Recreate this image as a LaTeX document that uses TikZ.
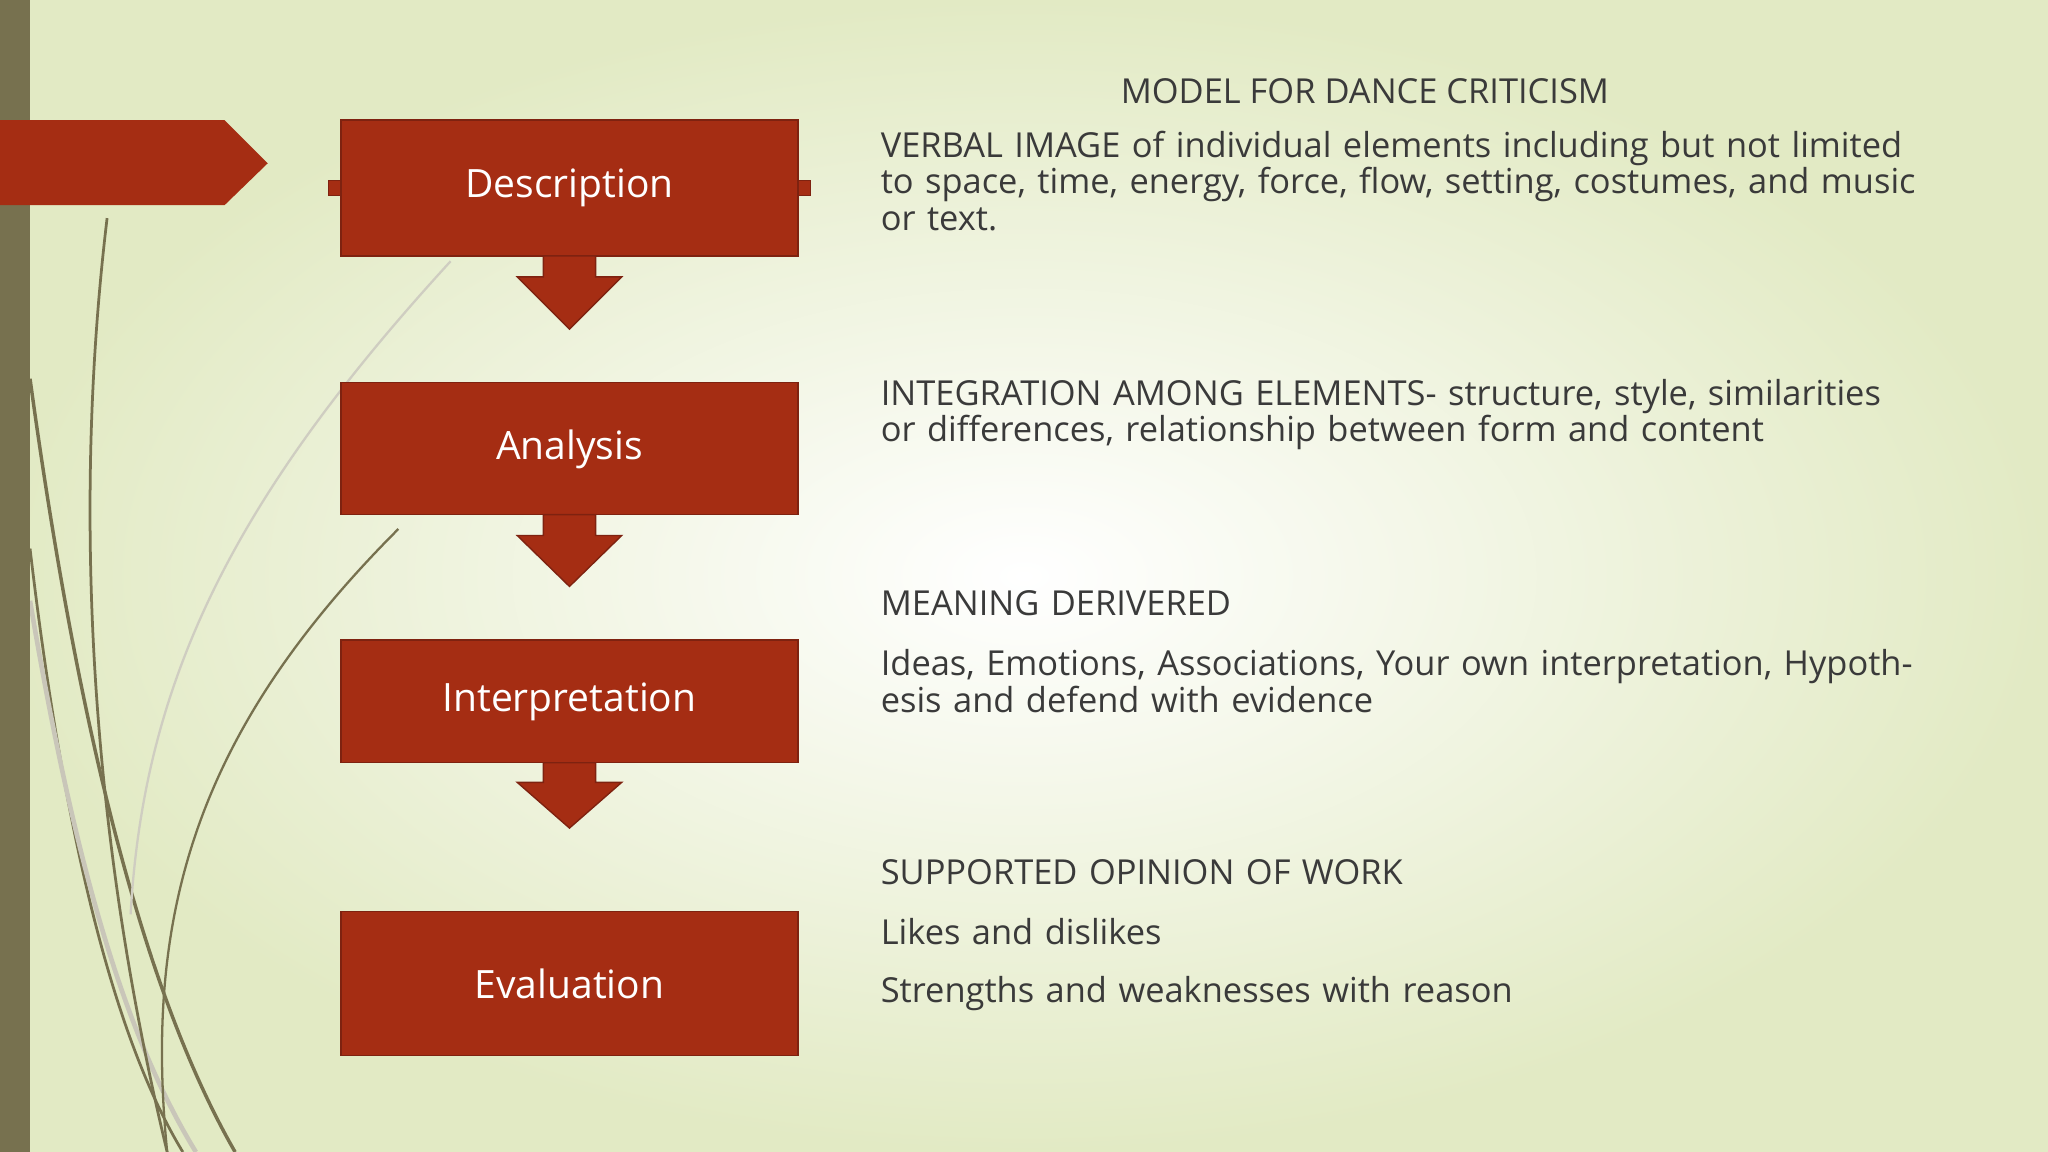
\documentclass[tikz,border=0pt]{standalone}
\usepackage{fontspec}
\setmainfont{Open Sans}
\begin{document}
\begin{tikzpicture}[x=0.02cm,y=-0.02cm]
\definecolor{boxred}{HTML}{A52D13}
\definecolor{boxedge}{HTML}{7E2210}
\definecolor{olive}{HTML}{77714F}
\definecolor{txt}{HTML}{3A3A3A}
\tikzset{stepbox/.style={fill=boxred,draw=boxedge,line width=0.6pt},
 lbl/.style={text=white,font=\fontsize{17}{20}\selectfont\addfontfeature{Weight=300}},
 para/.style={anchor=north west,text=txt,text width=15.9cm,align=left,inner sep=0,font=\fontsize{15}{15.9}\selectfont},
 swoosh/.style={draw=olive,line width=1.2pt}}
\useasboundingbox (0,0) rectangle (1568,882);
\shade[inner color=white,outer color={rgb,255:red,226;green,234;blue,196}] (0,0) rectangle (1568,882);
% curves
\draw[swoosh,line width=1.5pt] (23,290) .. controls (60,560) and (110,760) .. (180,882);
\draw[swoosh,line width=1.2pt] (23,420) .. controls (50,650) and (90,800) .. (140,882);
\draw[swoosh,draw=olive!40,line width=2pt] (23,460) .. controls (60,680) and (100,800) .. (150,882);
\draw[swoosh,line width=1.2pt] (82,167) .. controls (60,350) and (60,600) .. (128,882);
\draw[swoosh,line width=1pt] (305,405) .. controls (150,560) and (110,700) .. (128,882);
\draw[swoosh,draw=olive!35,line width=1pt] (345,200) .. controls (180,380) and (110,520) .. (100,700);
\fill[olive] (0,0) rectangle (23,882);
\fill[boxred] (0,92) -- (172,92) -- (205,125) -- (172,157) -- (0,157) -- cycle;
% boxes
\node[stepbox,minimum width=350\pgflinewidth] (d) at (436,144) {};
\fill[stepbox] (261,92) rectangle (611,196);
\node[lbl] (dl) at (436,144) {Description};
\fill[stepbox] (261,293) rectangle (611,394);
\node[lbl] (al) at (436,344) {Analysis};
\fill[stepbox] (261,490) rectangle (611,584);
\node[lbl] (il) at (436,537) {Interpretation};
\fill[stepbox] (261,698) rectangle (611,808);
\node[lbl] (el) at (436,753) {Evaluation};
% arrows
\foreach \t/\h/\b in {196/212/252,394/410/449,584/599/634}{
 \fill[boxred,draw=boxedge,line width=0.6pt] (416,\t) -- (456,\t) -- (456,\h) -- (476,\h) -- (436,\b) -- (396,\h) -- (416,\h) -- cycle;}
% texts
\node[text=txt,font=\fontsize{15}{18}\selectfont] (title) at (1045,70) {MODEL FOR DANCE CRITICISM};
\node[para] (p1) at (674,100) {VERBAL IMAGE of individual elements including but not limited to space, time, energy, force, flow, setting, costumes, and music or text.};
\node[para] (p2) at (674,290) {INTEGRATION AMONG ELEMENTS- structure, style, similarities or differences, relationship between form and content};
\node[para] (p3) at (674,452) {MEANING DERIVERED};
\node[para] (p4) at (674,497) {Ideas, Emotions, Associations, Your own interpretation, Hypothesis and defend with evidence};
\node[para] (p5) at (674,658) {SUPPORTED OPINION OF WORK};
\node[para] (p6) at (674,703) {Likes and dislikes};
\node[para] (p7) at (674,747) {Strengths and weaknesses with reason};
\end{tikzpicture}
\end{document}
